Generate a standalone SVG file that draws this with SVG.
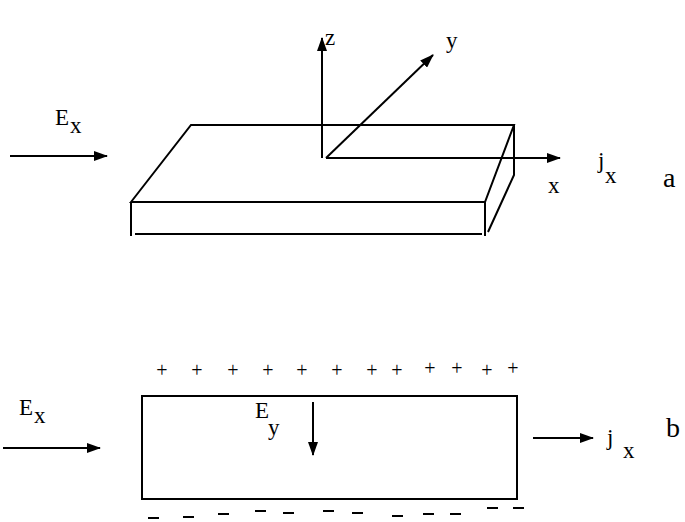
<svg xmlns="http://www.w3.org/2000/svg" width="685" height="522" viewBox="0 0 685 522">
<defs><marker id="ahb" markerWidth="14" markerHeight="10" refX="13" refY="5" orient="auto" markerUnits="userSpaceOnUse"><path d="M0,0 L14,5 L0,10 Z" fill="#000"/></marker></defs>
<style>.s{stroke:#000;stroke-width:2;fill:none}.a{stroke:#000;stroke-width:2;marker-end:url(#ahb)}</style>
<rect width="685" height="522" fill="#fff"/>
<g id="slab">
<path class="s" d="M131,202 L191,125 L514,125 L485,202 Z M131,202 V236 M485,202 V236 M514,125 V175 L488,232 M135,234 H482"/>
</g>
<g id="connectors">
<line class="a" x1="322" y1="158" x2="322" y2="38"/>
<line class="a" x1="326" y1="158" x2="560" y2="158"/>
<line class="a" x1="326" y1="158" x2="433" y2="55"/>
<line class="a" x1="10" y1="156" x2="107" y2="156"/>
<line class="a" x1="3" y1="448" x2="100" y2="448"/>
<line class="a" x1="533" y1="438" x2="593" y2="438"/>
<line class="a" x1="313" y1="402" x2="313" y2="455"/>
</g>
<g id="labels" font-family="Liberation Serif, serif" font-size="23" fill="#000">
<text x="325" y="45">z</text><text x="446" y="48">y</text><text x="548" y="193">x</text>
<text x="598" y="168">j</text><text x="605" y="183">x</text>
<text x="663" y="187" font-size="28">a</text>
<text x="55" y="125">E</text><text x="70" y="133">x</text>
<text x="19" y="415">E</text><text x="34" y="423">x</text>
<text x="255" y="418">E</text><text x="268" y="435">y</text>
<text x="607" y="445">j</text><text x="623" y="458">x</text>
<text x="666" y="437" font-size="28">b</text>
</g>
<g id="box"><rect class="s" x="142" y="396" width="375" height="103"/></g>
<g id="charges" font-family="Liberation Serif, serif" font-size="20" text-anchor="middle">
<text x="162" y="377">+</text><text x="197" y="377">+</text><text x="233" y="377">+</text><text x="268" y="377">+</text><text x="302" y="377">+</text><text x="337" y="377">+</text><text x="372" y="377">+</text><text x="397" y="377">+</text><text x="430" y="375">+</text><text x="457" y="375">+</text><text x="487" y="377">+</text><text x="513" y="375">+</text>
<path class="s" stroke-width="1.3" d="M148,518h11M183,517h11M218,514h11M255,511h11M283,513h11M323,511h11M352,513h11M392,516h11M423,514h11M450,514h11M487,508h11M513,508h11"/>
</g>
</svg>
